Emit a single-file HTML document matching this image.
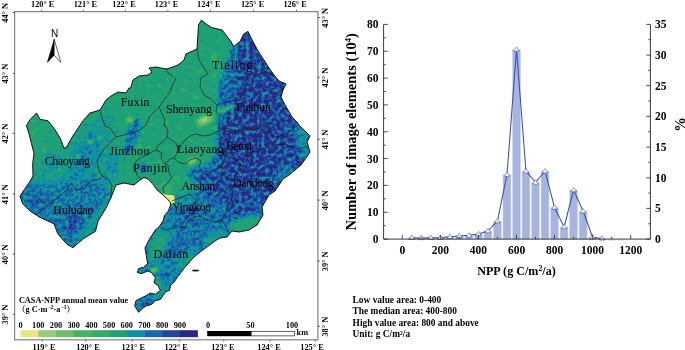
<!DOCTYPE html>
<html><head><meta charset="utf-8"><title>NPP map</title>
<style>
html,body{margin:0;padding:0;background:#fff;}
body{width:685px;height:350px;overflow:hidden;}
svg{display:block;}
text{font-family:"Liberation Serif",serif;font-weight:bold;fill:#000;}
.city{font-family:"Liberation Serif",serif;font-weight:normal;fill:#000;}
</style></head><body>
<svg width="685" height="350" viewBox="0 0 685 350">
<defs>
<clipPath id="prov"><polygon points="130.7,88.0 133.0,80.0 139.0,76.0 148.0,75.0 152.0,72.0 149.0,68.0 156.0,67.0 166.0,69.0 170.0,68.0 178.0,65.0 184.0,60.0 186.0,54.0 197.0,49.0 198.5,25.0 201.5,20.0 206.0,24.0 212.0,27.7 222.0,30.0 231.0,41.5 233.6,46.5 240.0,41.5 243.7,34.0 248.0,31.4 251.0,37.7 257.5,50.0 262.5,58.0 264.0,60.0 269.0,68.0 274.0,75.0 279.0,81.0 286.0,84.0 283.0,90.0 281.0,97.0 284.0,103.0 288.0,110.0 292.0,117.0 297.0,122.0 299.0,125.0 304.0,130.0 310.0,136.0 307.0,142.0 310.0,152.0 306.0,158.0 301.0,165.0 295.0,170.0 289.0,175.0 283.0,179.0 279.0,185.0 275.0,191.0 269.0,195.0 262.0,207.0 263.0,215.0 257.0,225.0 249.0,230.0 239.0,232.0 232.0,231.0 227.0,237.0 220.0,238.0 215.0,241.0 207.0,247.0 200.0,252.0 193.0,258.0 187.0,265.0 184.8,267.3 181.0,272.4 177.1,277.6 174.6,281.4 170.7,285.3 169.4,290.4 165.6,291.7 163.0,295.6 160.4,299.4 155.3,300.7 151.4,304.6 146.3,305.8 142.4,308.4 138.6,312.3 134.7,305.8 136.0,300.7 141.1,298.1 146.3,295.6 150.1,293.0 155.3,294.3 160.4,290.4 157.8,285.3 154.0,282.7 155.3,277.6 151.4,272.4 147.6,271.1 141.1,273.7 137.3,272.4 138.6,268.6 143.7,267.3 147.6,263.4 146.3,255.7 145.0,248.0 148.8,240.3 155.3,230.0 159.0,227.0 163.6,220.0 164.3,215.7 167.9,211.4 170.0,207.0 170.7,202.9 167.1,198.6 162.9,195.0 157.1,190.0 152.9,184.3 148.6,179.3 144.0,177.5 140.0,180.0 134.0,185.0 124.0,183.0 116.0,185.0 110.6,198.6 105.6,208.7 98.0,221.3 95.5,231.3 83.0,238.9 72.9,247.7 66.6,243.9 57.8,233.8 54.0,223.8 40.2,217.5 30.2,211.2 22.6,203.7 20.0,196.0 25.0,188.6 30.2,181.0 33.0,176.0 32.7,163.4 34.0,153.4 31.4,143.3 28.9,133.3 26.4,125.7 30.2,119.4 36.5,113.0 40.2,119.4 47.8,120.7 54.0,128.2 60.3,138.3 64.0,148.3 66.6,147.0 72.9,135.8 83.0,120.7 90.0,113.0 100.0,110.0 106.0,100.0 111.0,96.0 118.0,92.0 126.0,93.0 129.0,88.0"/></clipPath>
<filter id="blur6" x="-30%" y="-30%" width="160%" height="160%"><feGaussianBlur stdDeviation="5"/></filter>
<filter id="blur4" x="-30%" y="-30%" width="160%" height="160%"><feGaussianBlur stdDeviation="4"/></filter>
<filter id="blur3" x="-30%" y="-30%" width="160%" height="160%"><feGaussianBlur stdDeviation="2.5"/></filter>
<filter id="blur1" x="-50%" y="-50%" width="200%" height="200%"><feGaussianBlur stdDeviation="0.7"/></filter>
<filter id="blur2" x="-50%" y="-50%" width="200%" height="200%"><feGaussianBlur stdDeviation="1.2"/></filter>
<filter id="cmap" filterUnits="userSpaceOnUse" x="0" y="0" width="345" height="350" color-interpolation-filters="sRGB">
<feTurbulence type="fractalNoise" baseFrequency="0.26" numOctaves="4" seed="11" result="n0"/>
<feColorMatrix in="n0" type="matrix" values="1 0 0 0 0  1 0 0 0 0  1 0 0 0 0  0 0 0 0 1" result="n"/>
<feComponentTransfer in="SourceGraphic" result="amp">
<feFuncR type="gamma" amplitude="1" exponent="4" offset="0"/>
<feFuncG type="gamma" amplitude="1" exponent="4" offset="0"/>
<feFuncB type="gamma" amplitude="1" exponent="4" offset="0"/>
</feComponentTransfer>
<feComposite in="amp" in2="n" operator="arithmetic" k1="1.7" k2="-0.85" k3="0.07" k4="0.465" result="t"/>
<feComposite in="SourceGraphic" in2="t" operator="arithmetic" k1="0" k2="1" k3="1" k4="-0.5" result="f"/>
<feComponentTransfer in="f">
<feFuncR type="discrete" tableValues="0.910 0.588 0.431 0.255 0.196 0.125 0.055 0.094 0.133 0.173"/>
<feFuncG type="discrete" tableValues="0.910 0.804 0.745 0.706 0.682 0.635 0.569 0.408 0.275 0.149"/>
<feFuncB type="discrete" tableValues="0.490 0.471 0.431 0.373 0.412 0.455 0.647 0.667 0.627 0.510"/>
<feFuncA type="linear" slope="0" intercept="1"/>
</feComponentTransfer>
</filter>
</defs>
<rect width="685" height="350" fill="#fff"/>

<g clip-path="url(#prov)"><g filter="url(#cmap)">
<rect x="0" y="0" width="345" height="350" fill="#8c8c8c"/>
<polygon points="15.0,180.0 45.0,165.0 64.0,152.0 90.0,120.0 112.0,112.0 120.0,150.0 118.0,185.0 100.0,230.0 75.0,255.0 40.0,225.0 10.0,210.0" fill="#999999" opacity="0.9" filter="url(#blur6)"/>
<ellipse cx="86" cy="155" rx="10" ry="27" transform="rotate(27 86 155)" fill="#b2b2b2" opacity="0.85" filter="url(#blur4)"/>
<polygon points="12.0,180.0 50.0,185.0 95.0,175.0 118.0,188.0 100.0,230.0 75.0,255.0 40.0,225.0 10.0,210.0" fill="#b8b8b8" opacity="0.9" filter="url(#blur6)"/>
<ellipse cx="75" cy="222" rx="14" ry="8" transform="rotate(-30 75 222)" fill="#d1d1d1" opacity="0.8" filter="url(#blur3)"/>
<ellipse cx="40" cy="200" rx="12" ry="8" transform="rotate(20 40 200)" fill="#c7c7c7" opacity="0.7" filter="url(#blur3)"/>
<ellipse cx="52" cy="160" rx="10" ry="6" transform="rotate(60 52 160)" fill="#adadad" opacity="0.7" filter="url(#blur3)"/>
<ellipse cx="132" cy="136" rx="4.5" ry="20" transform="rotate(18 132 136)" fill="#cccccc" opacity="0.95" filter="url(#blur3)"/>
<ellipse cx="112" cy="165" rx="6" ry="10" transform="rotate(10 112 165)" fill="#b2b2b2" opacity="0.7" filter="url(#blur3)"/>
<ellipse cx="36" cy="130" rx="6" ry="12" transform="rotate(0 36 130)" fill="#808080" opacity="0.8" filter="url(#blur3)"/>
<ellipse cx="95" cy="221" rx="4" ry="30" transform="rotate(37 95 221)" fill="#8f8f8f" opacity="0.85" filter="url(#blur3)"/>
<ellipse cx="112" cy="188" rx="8" ry="5" transform="rotate(0 112 188)" fill="#8c8c8c" opacity="0.8" filter="url(#blur3)"/>
<ellipse cx="143" cy="169" rx="5" ry="7" transform="rotate(0 143 169)" fill="#bdbdbd" opacity="0.85" filter="url(#blur3)"/>
<polygon points="236.0,30.0 230.0,55.0 222.0,75.0 217.0,95.0 220.0,112.0 218.0,135.0 216.0,150.0 208.0,165.0 199.0,182.0 191.0,200.0 185.0,215.0 172.0,240.0 160.0,262.0 200.0,262.0 330.0,250.0 330.0,20.0" fill="#bdbdbd" opacity="1" filter="url(#blur3)"/>
<polygon points="246.0,25.0 244.0,55.0 240.0,75.0 236.0,92.0 230.0,108.0 228.0,135.0 226.0,150.0 218.0,168.0 210.0,186.0 204.0,202.0 198.0,218.0 186.0,240.0 172.0,262.0 200.0,262.0 330.0,250.0 330.0,20.0" fill="#d6d6d6" opacity="1" filter="url(#blur6)"/>
<polygon points="150.0,195.0 200.0,195.0 240.0,200.0 270.0,195.0 270.0,240.0 130.0,330.0 120.0,260.0" fill="#b2b2b2" opacity="0.85" filter="url(#blur6)"/>
<polygon points="222.0,170.0 280.0,175.0 262.0,212.0 240.0,225.0 225.0,215.0 222.0,190.0" fill="#d6d6d6" opacity="0.8" filter="url(#blur6)"/>
<ellipse cx="187" cy="216" rx="14" ry="9" transform="rotate(-20 187 216)" fill="#cccccc" opacity="0.75" filter="url(#blur3)"/>
<ellipse cx="200" cy="175" rx="12" ry="8" transform="rotate(0 200 175)" fill="#d6d6d6" opacity="0.7" filter="url(#blur3)"/>
<ellipse cx="178" cy="245" rx="14" ry="9" transform="rotate(-30 178 245)" fill="#bdbdbd" opacity="0.7" filter="url(#blur3)"/>
<ellipse cx="248" cy="140" rx="28" ry="36" transform="rotate(0 248 140)" fill="#e6e6e6" opacity="0.8" filter="url(#blur6)"/>
<ellipse cx="262" cy="95" rx="22" ry="25" transform="rotate(0 262 95)" fill="#e0e0e0" opacity="0.6" filter="url(#blur6)"/>
<ellipse cx="250" cy="65" rx="12" ry="20" transform="rotate(-25 250 65)" fill="#dbdbdb" opacity="0.6" filter="url(#blur6)"/>
<ellipse cx="303" cy="140" rx="7" ry="22" transform="rotate(-10 303 140)" fill="#9e9e9e" opacity="0.85" filter="url(#blur3)"/>
<ellipse cx="285" cy="175" rx="12" ry="7" transform="rotate(-40 285 175)" fill="#a3a3a3" opacity="0.7" filter="url(#blur3)"/>
<ellipse cx="246" cy="224" rx="18" ry="7" transform="rotate(-15 246 224)" fill="#808080" opacity="0.9" filter="url(#blur3)"/>
<ellipse cx="215" cy="238" rx="12" ry="5" transform="rotate(-25 215 238)" fill="#808080" opacity="0.8" filter="url(#blur3)"/>
<ellipse cx="158" cy="245" rx="8" ry="16" transform="rotate(25 158 245)" fill="#858585" opacity="0.8" filter="url(#blur3)"/>
<ellipse cx="187" cy="260" rx="12" ry="6" transform="rotate(-40 187 260)" fill="#858585" opacity="0.7" filter="url(#blur3)"/>
<ellipse cx="158" cy="287" rx="5" ry="9" transform="rotate(0 158 287)" fill="#808080" opacity="0.7" filter="url(#blur3)"/>
<ellipse cx="146" cy="303" rx="6" ry="4" transform="rotate(-30 146 303)" fill="#d9d9d9" opacity="0.9" filter="url(#blur3)"/>
<ellipse cx="167" cy="277" rx="6" ry="7" transform="rotate(0 167 277)" fill="#bdbdbd" opacity="0.6" filter="url(#blur3)"/>
<ellipse cx="205" cy="120" rx="10" ry="5.5" transform="rotate(-25 205 120)" fill="#4c4c4c" opacity="1" filter="url(#blur2)"/>
<ellipse cx="204" cy="120" rx="5" ry="2.5" transform="rotate(-25 204 120)" fill="#262626" opacity="1" filter="url(#blur2)"/>
<ellipse cx="226" cy="109" rx="10" ry="2" transform="rotate(-20 226 109)" fill="#595959" opacity="0.9" filter="url(#blur2)"/>
<ellipse cx="167" cy="189" rx="8" ry="8" transform="rotate(0 167 189)" fill="#757575" opacity="0.9" filter="url(#blur3)"/>
<polygon points="162.5,194.0 174.5,195.5 175.0,204.5 170.0,203.5" fill="#000000" opacity="1" filter="url(#blur1)"/>
<ellipse cx="192" cy="161" rx="5" ry="3.5" transform="rotate(-20 192 161)" fill="#333333" opacity="0.9" filter="url(#blur2)"/>
<ellipse cx="130" cy="120" rx="4" ry="3" transform="rotate(0 130 120)" fill="#383838" opacity="0.8" filter="url(#blur2)"/>
<ellipse cx="150" cy="186" rx="6" ry="2.5" transform="rotate(0 150 186)" fill="#4c4c4c" opacity="0.8" filter="url(#blur2)"/>
<ellipse cx="90" cy="142" rx="3" ry="2" transform="rotate(0 90 142)" fill="#333333" opacity="0.8" filter="url(#blur2)"/>
<ellipse cx="100" cy="138" rx="2.5" ry="1.5" transform="rotate(0 100 138)" fill="#262626" opacity="0.8" filter="url(#blur2)"/>
<ellipse cx="78" cy="157" rx="2" ry="2" transform="rotate(0 78 157)" fill="#333333" opacity="0.7" filter="url(#blur2)"/>
<ellipse cx="117" cy="190" rx="4" ry="3" transform="rotate(0 117 190)" fill="#4c4c4c" opacity="0.8" filter="url(#blur2)"/>
<ellipse cx="154" cy="270" rx="4" ry="2" transform="rotate(-20 154 270)" fill="#1f1f1f" opacity="0.9" filter="url(#blur2)"/>
<ellipse cx="214" cy="58" rx="2" ry="6" transform="rotate(0 214 58)" fill="#4c4c4c" opacity="0.6" filter="url(#blur2)"/>
<ellipse cx="173" cy="75" rx="1.8" ry="1.3" transform="rotate(0 173 75)" fill="#4c4c4c" opacity="0.85" filter="url(#blur2)"/>
<ellipse cx="198" cy="72" rx="1.8" ry="1.3" transform="rotate(0 198 72)" fill="#4c4c4c" opacity="0.85" filter="url(#blur2)"/>
<ellipse cx="196" cy="97" rx="1.8" ry="1.3" transform="rotate(0 196 97)" fill="#4c4c4c" opacity="0.85" filter="url(#blur2)"/>
<ellipse cx="183" cy="90" rx="1.8" ry="1.3" transform="rotate(0 183 90)" fill="#4c4c4c" opacity="0.85" filter="url(#blur2)"/>
<ellipse cx="166" cy="122" rx="1.8" ry="1.3" transform="rotate(0 166 122)" fill="#4c4c4c" opacity="0.85" filter="url(#blur2)"/>
<ellipse cx="180" cy="128" rx="1.8" ry="1.3" transform="rotate(0 180 128)" fill="#4c4c4c" opacity="0.85" filter="url(#blur2)"/>
<ellipse cx="146" cy="100" rx="1.8" ry="1.3" transform="rotate(0 146 100)" fill="#4c4c4c" opacity="0.85" filter="url(#blur2)"/>
<ellipse cx="120" cy="150" rx="1.8" ry="1.3" transform="rotate(0 120 150)" fill="#4c4c4c" opacity="0.85" filter="url(#blur2)"/>
<ellipse cx="100" cy="175" rx="1.8" ry="1.3" transform="rotate(0 100 175)" fill="#4c4c4c" opacity="0.85" filter="url(#blur2)"/>
<ellipse cx="60" cy="170" rx="1.8" ry="1.3" transform="rotate(0 60 170)" fill="#4c4c4c" opacity="0.85" filter="url(#blur2)"/>
<ellipse cx="45" cy="150" rx="1.8" ry="1.3" transform="rotate(0 45 150)" fill="#4c4c4c" opacity="0.85" filter="url(#blur2)"/>
<ellipse cx="215" cy="75" rx="1.8" ry="1.3" transform="rotate(0 215 75)" fill="#4c4c4c" opacity="0.85" filter="url(#blur2)"/>
<ellipse cx="190" cy="140" rx="1.8" ry="1.3" transform="rotate(0 190 140)" fill="#4c4c4c" opacity="0.85" filter="url(#blur2)"/>
<ellipse cx="160" cy="160" rx="1.8" ry="1.3" transform="rotate(0 160 160)" fill="#4c4c4c" opacity="0.85" filter="url(#blur2)"/>
<ellipse cx="215" cy="128" rx="1.8" ry="1.3" transform="rotate(0 215 128)" fill="#4c4c4c" opacity="0.85" filter="url(#blur2)"/>
<ellipse cx="60" cy="205" rx="1.8" ry="1.3" transform="rotate(0 60 205)" fill="#4c4c4c" opacity="0.85" filter="url(#blur2)"/>
<ellipse cx="85" cy="215" rx="1.8" ry="1.3" transform="rotate(0 85 215)" fill="#4c4c4c" opacity="0.85" filter="url(#blur2)"/>
<ellipse cx="175" cy="178" rx="1.8" ry="1.3" transform="rotate(0 175 178)" fill="#4c4c4c" opacity="0.85" filter="url(#blur2)"/>
<ellipse cx="140" cy="145" rx="1.8" ry="1.3" transform="rotate(0 140 145)" fill="#4c4c4c" opacity="0.85" filter="url(#blur2)"/>
</g></g>
<polygon points="130.7,88.0 133.0,80.0 139.0,76.0 148.0,75.0 152.0,72.0 149.0,68.0 156.0,67.0 166.0,69.0 170.0,68.0 178.0,65.0 184.0,60.0 186.0,54.0 197.0,49.0 198.5,25.0 201.5,20.0 206.0,24.0 212.0,27.7 222.0,30.0 231.0,41.5 233.6,46.5 240.0,41.5 243.7,34.0 248.0,31.4 251.0,37.7 257.5,50.0 262.5,58.0 264.0,60.0 269.0,68.0 274.0,75.0 279.0,81.0 286.0,84.0 283.0,90.0 281.0,97.0 284.0,103.0 288.0,110.0 292.0,117.0 297.0,122.0 299.0,125.0 304.0,130.0 310.0,136.0 307.0,142.0 310.0,152.0 306.0,158.0 301.0,165.0 295.0,170.0 289.0,175.0 283.0,179.0 279.0,185.0 275.0,191.0 269.0,195.0 262.0,207.0 263.0,215.0 257.0,225.0 249.0,230.0 239.0,232.0 232.0,231.0 227.0,237.0 220.0,238.0 215.0,241.0 207.0,247.0 200.0,252.0 193.0,258.0 187.0,265.0 184.8,267.3 181.0,272.4 177.1,277.6 174.6,281.4 170.7,285.3 169.4,290.4 165.6,291.7 163.0,295.6 160.4,299.4 155.3,300.7 151.4,304.6 146.3,305.8 142.4,308.4 138.6,312.3 134.7,305.8 136.0,300.7 141.1,298.1 146.3,295.6 150.1,293.0 155.3,294.3 160.4,290.4 157.8,285.3 154.0,282.7 155.3,277.6 151.4,272.4 147.6,271.1 141.1,273.7 137.3,272.4 138.6,268.6 143.7,267.3 147.6,263.4 146.3,255.7 145.0,248.0 148.8,240.3 155.3,230.0 159.0,227.0 163.6,220.0 164.3,215.7 167.9,211.4 170.0,207.0 170.7,202.9 167.1,198.6 162.9,195.0 157.1,190.0 152.9,184.3 148.6,179.3 144.0,177.5 140.0,180.0 134.0,185.0 124.0,183.0 116.0,185.0 110.6,198.6 105.6,208.7 98.0,221.3 95.5,231.3 83.0,238.9 72.9,247.7 66.6,243.9 57.8,233.8 54.0,223.8 40.2,217.5 30.2,211.2 22.6,203.7 20.0,196.0 25.0,188.6 30.2,181.0 33.0,176.0 32.7,163.4 34.0,153.4 31.4,143.3 28.9,133.3 26.4,125.7 30.2,119.4 36.5,113.0 40.2,119.4 47.8,120.7 54.0,128.2 60.3,138.3 64.0,148.3 66.6,147.0 72.9,135.8 83.0,120.7 90.0,113.0 100.0,110.0 106.0,100.0 111.0,96.0 118.0,92.0 126.0,93.0 129.0,88.0" fill="none" stroke="#111" stroke-width="1" stroke-linejoin="round"/>
<polyline points="100.0,110.0 102.0,118.0 105.0,126.0 110.0,128.0 112.0,131.0 116.0,137.0 110.0,143.0 104.0,149.0 100.0,155.0 97.0,161.0 98.0,167.0 101.0,175.0 108.0,179.0 112.0,185.0 111.0,193.0 110.6,198.6" fill="none" stroke="#1a1a1a" stroke-width="0.65" stroke-linejoin="round"/>
<polyline points="116.0,137.0 124.0,135.0 132.0,133.0 140.0,130.0 146.0,125.0 150.0,116.0 159.0,107.0 164.0,100.0 170.0,92.0 173.0,84.0 176.0,79.0 174.0,77.0 167.0,72.0 166.0,69.0" fill="none" stroke="#1a1a1a" stroke-width="0.65" stroke-linejoin="round"/>
<polyline points="159.0,107.0 162.0,114.0 165.0,120.0 164.0,126.0 165.0,125.0 168.0,131.0 167.0,137.0 163.0,142.0 158.0,145.0 156.0,150.0" fill="none" stroke="#1a1a1a" stroke-width="0.65" stroke-linejoin="round"/>
<polyline points="156.0,150.0 150.0,153.0 142.0,157.0 136.0,161.0 134.0,167.0 137.0,175.0 141.0,179.0" fill="none" stroke="#1a1a1a" stroke-width="0.65" stroke-linejoin="round"/>
<polyline points="156.0,150.0 162.0,153.0 161.0,159.0 165.0,164.0 170.0,159.0 174.0,158.0" fill="none" stroke="#1a1a1a" stroke-width="0.65" stroke-linejoin="round"/>
<polyline points="165.0,164.0 168.0,165.0 169.0,173.0 172.0,177.0 168.0,183.0 163.0,187.0 164.0,193.0" fill="none" stroke="#1a1a1a" stroke-width="0.65" stroke-linejoin="round"/>
<polyline points="167.0,137.0 176.0,143.0 178.0,149.0 176.0,155.0 174.0,158.0" fill="none" stroke="#1a1a1a" stroke-width="0.65" stroke-linejoin="round"/>
<polyline points="178.0,149.0 184.0,141.0 190.0,136.0 196.0,134.0 204.0,136.0 210.0,135.0 219.0,131.0" fill="none" stroke="#1a1a1a" stroke-width="0.65" stroke-linejoin="round"/>
<polyline points="174.0,158.0 178.0,162.0 185.0,164.0 190.0,160.0 196.0,158.0 201.0,161.0 199.0,167.0 202.0,171.0 210.0,172.0 221.0,167.0" fill="none" stroke="#1a1a1a" stroke-width="0.65" stroke-linejoin="round"/>
<polyline points="197.0,49.0 199.0,60.0 203.0,66.0 208.0,74.0 201.0,78.0 200.0,86.0 204.0,95.0 211.0,99.0 217.0,105.0" fill="none" stroke="#1a1a1a" stroke-width="0.65" stroke-linejoin="round"/>
<polyline points="217.0,105.0 221.0,103.0 229.0,102.0 235.0,99.0 241.0,96.0 246.0,90.0 245.0,84.0 247.0,78.0 252.0,79.0 257.0,75.0 265.0,72.0 274.0,75.0" fill="none" stroke="#1a1a1a" stroke-width="0.65" stroke-linejoin="round"/>
<polyline points="217.0,105.0 216.0,112.0 220.0,116.0 219.0,124.0 219.0,131.0 221.0,137.0 220.0,145.0 223.0,151.0 225.0,159.0 221.0,167.0 223.0,175.0 231.0,181.0 230.0,189.0 233.0,190.0 232.0,197.0 228.0,205.0 226.0,212.0 222.0,221.0 226.0,226.0 228.0,232.0" fill="none" stroke="#1a1a1a" stroke-width="0.65" stroke-linejoin="round"/>
<polyline points="219.0,131.0 228.0,128.0 236.0,131.0 245.0,128.0 255.0,130.0 262.0,126.0 268.0,125.0 269.0,133.0 275.0,137.0 283.0,135.0 291.0,131.0 295.0,127.0 299.0,125.0" fill="none" stroke="#1a1a1a" stroke-width="0.65" stroke-linejoin="round"/>
<polyline points="243.0,167.0 244.0,160.0 247.0,153.0 255.0,151.0 265.0,148.0 275.0,145.0 285.0,144.0 293.0,147.0 299.0,149.0 307.0,146.0" fill="none" stroke="#1a1a1a" stroke-width="0.65" stroke-linejoin="round"/>
<polyline points="223.0,151.0 230.0,153.0 236.0,160.0 243.0,167.0 238.0,172.0 231.0,181.0" fill="none" stroke="#1a1a1a" stroke-width="0.65" stroke-linejoin="round"/>
<polyline points="172.0,201.0 182.0,197.0 190.0,194.0 193.0,197.0 198.0,204.0 196.0,210.0 200.0,216.0 207.0,220.0 215.0,222.0 222.0,221.0" fill="none" stroke="#1a1a1a" stroke-width="0.65" stroke-linejoin="round"/>
<polyline points="160.0,228.0 167.0,230.0 177.0,226.0 185.0,228.0 187.0,222.0 193.0,217.0 200.0,216.0" fill="none" stroke="#1a1a1a" stroke-width="0.65" stroke-linejoin="round"/>
<polyline points="38.0,214.0 49.0,204.0 61.0,195.0 68.0,188.0 71.0,183.0 76.0,190.0 86.0,187.0 90.0,181.0 100.0,179.0 103.0,176.0 101.0,175.0" fill="none" stroke="#1a1a1a" stroke-width="0.65" stroke-linejoin="round"/>
<ellipse cx="195.5" cy="270.5" rx="3.5" ry="1" fill="#222"/>
<rect x="14.6" y="11.6" width="303.29999999999995" height="328.2" fill="none" stroke="#85858f" stroke-width="1.25"/>
<line x1="41.6" y1="11.6" x2="41.6" y2="9.6" stroke="#444" stroke-width="0.7"/>
<text x="42.7" y="7.2" font-size="8.3" text-anchor="middle">120° E</text>
<line x1="83.2" y1="11.6" x2="83.2" y2="9.6" stroke="#444" stroke-width="0.7"/>
<text x="85.4" y="7.2" font-size="8.3" text-anchor="middle">121° E</text>
<line x1="125.4" y1="11.6" x2="125.4" y2="9.6" stroke="#444" stroke-width="0.7"/>
<text x="124" y="7.2" font-size="8.3" text-anchor="middle">122° E</text>
<line x1="167.9" y1="11.6" x2="167.9" y2="9.6" stroke="#444" stroke-width="0.7"/>
<text x="166.5" y="7.2" font-size="8.3" text-anchor="middle">123° E</text>
<line x1="210.5" y1="11.6" x2="210.5" y2="9.6" stroke="#444" stroke-width="0.7"/>
<text x="208.8" y="7.2" font-size="8.3" text-anchor="middle">124° E</text>
<line x1="253.5" y1="11.6" x2="253.5" y2="9.6" stroke="#444" stroke-width="0.7"/>
<text x="252.6" y="7.2" font-size="8.3" text-anchor="middle">125° E</text>
<line x1="296.5" y1="11.6" x2="296.5" y2="9.6" stroke="#444" stroke-width="0.7"/>
<text x="295.1" y="7.2" font-size="8.3" text-anchor="middle">126° E</text>
<line x1="42.1" y1="339.8" x2="42.1" y2="341.8" stroke="#444" stroke-width="0.7"/>
<text x="44" y="349.5" font-size="8.3" text-anchor="middle">119° E</text>
<line x1="85.9" y1="339.8" x2="85.9" y2="341.8" stroke="#444" stroke-width="0.7"/>
<text x="88" y="349.5" font-size="8.3" text-anchor="middle">120° E</text>
<line x1="132.3" y1="339.8" x2="132.3" y2="341.8" stroke="#444" stroke-width="0.7"/>
<text x="133.3" y="349.5" font-size="8.3" text-anchor="middle">121° E</text>
<line x1="179.4" y1="339.8" x2="179.4" y2="341.8" stroke="#444" stroke-width="0.7"/>
<text x="176.2" y="349.5" font-size="8.3" text-anchor="middle">122° E</text>
<line x1="223.8" y1="339.8" x2="223.8" y2="341.8" stroke="#444" stroke-width="0.7"/>
<text x="222.9" y="349.5" font-size="8.3" text-anchor="middle">123° E</text>
<line x1="270.1" y1="339.8" x2="270.1" y2="341.8" stroke="#444" stroke-width="0.7"/>
<text x="269" y="349.5" font-size="8.3" text-anchor="middle">124° E</text>
<line x1="315.3" y1="339.8" x2="315.3" y2="341.8" stroke="#444" stroke-width="0.7"/>
<text x="312" y="349.5" font-size="8.3" text-anchor="middle">125° E</text>
<line x1="14.6" y1="12.6" x2="12.6" y2="12.6" stroke="#222" stroke-width="0.7"/>
<text transform="translate(8.2,12.9) rotate(-90)" font-size="8.3" text-anchor="middle">44° N</text>
<line x1="14.6" y1="73.4" x2="12.6" y2="73.4" stroke="#222" stroke-width="0.7"/>
<text transform="translate(8.2,73.7) rotate(-90)" font-size="8.3" text-anchor="middle">43° N</text>
<line x1="14.6" y1="133.3" x2="12.6" y2="133.3" stroke="#222" stroke-width="0.7"/>
<text transform="translate(8.2,133.60000000000002) rotate(-90)" font-size="8.3" text-anchor="middle">42° N</text>
<line x1="14.6" y1="194" x2="12.6" y2="194" stroke="#222" stroke-width="0.7"/>
<text transform="translate(8.2,194.3) rotate(-90)" font-size="8.3" text-anchor="middle">41° N</text>
<line x1="14.6" y1="254" x2="12.6" y2="254" stroke="#222" stroke-width="0.7"/>
<text transform="translate(8.2,254.3) rotate(-90)" font-size="8.3" text-anchor="middle">40° N</text>
<line x1="14.6" y1="314.3" x2="12.6" y2="314.3" stroke="#222" stroke-width="0.7"/>
<text transform="translate(8.2,314.6) rotate(-90)" font-size="8.3" text-anchor="middle">39° N</text>
<line x1="317.9" y1="17.5" x2="319.9" y2="17.5" stroke="#222" stroke-width="0.7"/>
<text transform="translate(327.8,17.8) rotate(-90)" font-size="8.3" text-anchor="middle">43° N</text>
<line x1="317.9" y1="77.3" x2="319.9" y2="77.3" stroke="#222" stroke-width="0.7"/>
<text transform="translate(327.8,77.6) rotate(-90)" font-size="8.3" text-anchor="middle">42° N</text>
<line x1="317.9" y1="139.2" x2="319.9" y2="139.2" stroke="#222" stroke-width="0.7"/>
<text transform="translate(327.8,139.5) rotate(-90)" font-size="8.3" text-anchor="middle">41° N</text>
<line x1="317.9" y1="200.1" x2="319.9" y2="200.1" stroke="#222" stroke-width="0.7"/>
<text transform="translate(327.8,200.4) rotate(-90)" font-size="8.3" text-anchor="middle">40° N</text>
<line x1="317.9" y1="261.1" x2="319.9" y2="261.1" stroke="#222" stroke-width="0.7"/>
<text transform="translate(327.8,261.40000000000003) rotate(-90)" font-size="8.3" text-anchor="middle">39° N</text>
<line x1="317.9" y1="326.4" x2="319.9" y2="326.4" stroke="#222" stroke-width="0.7"/>
<text transform="translate(327.8,326.7) rotate(-90)" font-size="8.3" text-anchor="middle">38° N</text>
<text x="54.6" y="36.5" font-size="10" text-anchor="middle" style="font-family:'Liberation Sans',sans-serif;font-weight:normal">N</text>
<polygon points="54.2,39.3 47.3,62.4 54.2,55.2" fill="#000" stroke="#000" stroke-width="0.5"/>
<polygon points="54.2,39.3 60.8,62.4 54.2,55.2" fill="#fff" stroke="#000" stroke-width="0.6"/>
<text class="city" x="212" y="69.3" font-size="12" textLength="40.5" lengthAdjust="spacing">Tieling</text>
<text class="city" x="120.7" y="106.3" font-size="12" textLength="28.9" lengthAdjust="spacing">Fuxin</text>
<text class="city" x="166" y="112.7" font-size="12" textLength="46.0" lengthAdjust="spacing">Shenyang</text>
<text class="city" x="236" y="111.3" font-size="12" textLength="35.0" lengthAdjust="spacing">Fushun</text>
<text class="city" x="109.4" y="155.3" font-size="12" textLength="40.2" lengthAdjust="spacing">Jinzhou</text>
<text class="city" x="177" y="152.9" font-size="12" textLength="46.5" lengthAdjust="spacing">Liaoyang</text>
<text class="city" x="226" y="149.60000000000002" font-size="12" textLength="26.0" lengthAdjust="spacing">Benxi</text>
<text class="city" x="44.8" y="164.70000000000002" font-size="12" textLength="45.2" lengthAdjust="spacing">Chaoyang</text>
<text class="city" x="133.3" y="171.8" font-size="12" textLength="33.9" lengthAdjust="spacing">Panjin</text>
<text class="city" x="181.6" y="189.9" font-size="12" textLength="33.6" lengthAdjust="spacing">Anshan</text>
<text class="city" x="233" y="186.8" font-size="12" textLength="40.8" lengthAdjust="spacing">Dandong</text>
<text class="city" x="172" y="210.70000000000002" font-size="12" textLength="39.0" lengthAdjust="spacing">Yingkou</text>
<text class="city" x="53.3" y="213.70000000000002" font-size="12" textLength="40.2" lengthAdjust="spacing">Huludao</text>
<text class="city" x="153.4" y="257.8" font-size="12" textLength="34.9" lengthAdjust="spacing">Dalian</text>
<rect x="20.60" y="330.2" width="18.00" height="7" fill="#e8e87d"/>
<rect x="38.30" y="330.2" width="18.00" height="7" fill="#96cd78"/>
<rect x="56.00" y="330.2" width="18.00" height="7" fill="#6ebe6e"/>
<rect x="73.70" y="330.2" width="18.00" height="7" fill="#41b45f"/>
<rect x="91.40" y="330.2" width="18.00" height="7" fill="#32ae69"/>
<rect x="109.10" y="330.2" width="18.00" height="7" fill="#20a274"/>
<rect x="126.80" y="330.2" width="18.00" height="7" fill="#0e91a5"/>
<rect x="144.50" y="330.2" width="18.00" height="7" fill="#1868aa"/>
<rect x="162.20" y="330.2" width="18.00" height="7" fill="#2246a0"/>
<rect x="179.90" y="330.2" width="18.00" height="7" fill="#2c2682"/>
<text x="20.6" y="327.6" font-size="8.3" text-anchor="middle">0</text>
<text x="38.3" y="327.6" font-size="8.3" text-anchor="middle">100</text>
<text x="56.0" y="327.6" font-size="8.3" text-anchor="middle">200</text>
<text x="73.7" y="327.6" font-size="8.3" text-anchor="middle">300</text>
<text x="91.4" y="327.6" font-size="8.3" text-anchor="middle">400</text>
<text x="109.1" y="327.6" font-size="8.3" text-anchor="middle">500</text>
<text x="126.8" y="327.6" font-size="8.3" text-anchor="middle">600</text>
<text x="144.5" y="327.6" font-size="8.3" text-anchor="middle">700</text>
<text x="162.2" y="327.6" font-size="8.3" text-anchor="middle">800</text>
<text x="179.9" y="327.6" font-size="8.3" text-anchor="middle">900</text>
<text x="18.9" y="303.1" font-size="8.6" textLength="109.3" lengthAdjust="spacingAndGlyphs">CASA-NPP annual mean value</text>
<text x="17.3" y="311.8" font-size="8.3" style="font-family:'Liberation Serif','Noto Serif CJK SC',serif">（g C·m<tspan font-size="5.6" dy="-2.4"> -2</tspan><tspan dy="2.4">·a</tspan><tspan font-size="5.6" dy="-2.4"> -1</tspan><tspan dy="2.4">）</tspan></text>
<rect x="207.2" y="331" width="44" height="5.2" fill="#000"/>
<rect x="251.2" y="331.3" width="43.3" height="4.6" fill="#fff" stroke="#000" stroke-width="0.6"/>
<text x="208" y="327.6" font-size="8.3" text-anchor="middle">0</text>
<text x="250.5" y="327.6" font-size="8.3" text-anchor="middle">50</text>
<text x="292" y="327.6" font-size="8.3" text-anchor="middle">100</text>
<text x="296.6" y="334.6" font-size="8.3">km</text>
<rect x="407.87" y="237.76" width="7.9" height="1.34" fill="#a6b4de" stroke="#c9d1ec" stroke-width="0.5"/>
<rect x="417.38" y="238.03" width="7.9" height="1.07" fill="#a6b4de" stroke="#c9d1ec" stroke-width="0.5"/>
<rect x="426.90" y="237.76" width="7.9" height="1.34" fill="#a6b4de" stroke="#c9d1ec" stroke-width="0.5"/>
<rect x="436.41" y="237.76" width="7.9" height="1.34" fill="#a6b4de" stroke="#c9d1ec" stroke-width="0.5"/>
<rect x="445.93" y="236.68" width="7.9" height="2.42" fill="#a6b4de" stroke="#c9d1ec" stroke-width="0.5"/>
<rect x="455.44" y="235.88" width="7.9" height="3.22" fill="#a6b4de" stroke="#c9d1ec" stroke-width="0.5"/>
<rect x="464.96" y="235.34" width="7.9" height="3.76" fill="#a6b4de" stroke="#c9d1ec" stroke-width="0.5"/>
<rect x="474.47" y="234.00" width="7.9" height="5.10" fill="#a6b4de" stroke="#c9d1ec" stroke-width="0.5"/>
<rect x="483.99" y="231.05" width="7.9" height="8.05" fill="#a6b4de" stroke="#c9d1ec" stroke-width="0.5"/>
<rect x="493.50" y="221.12" width="7.9" height="17.98" fill="#a6b4de" stroke="#c9d1ec" stroke-width="0.5"/>
<rect x="503.02" y="174.69" width="7.9" height="64.41" fill="#a6b4de" stroke="#c9d1ec" stroke-width="0.5"/>
<rect x="512.53" y="49.63" width="7.9" height="189.47" fill="#a6b4de" stroke="#c9d1ec" stroke-width="0.5"/>
<rect x="522.04" y="171.20" width="7.9" height="67.90" fill="#a6b4de" stroke="#c9d1ec" stroke-width="0.5"/>
<rect x="531.56" y="182.47" width="7.9" height="56.63" fill="#a6b4de" stroke="#c9d1ec" stroke-width="0.5"/>
<rect x="541.07" y="171.20" width="7.9" height="67.90" fill="#a6b4de" stroke="#c9d1ec" stroke-width="0.5"/>
<rect x="550.59" y="207.43" width="7.9" height="31.67" fill="#a6b4de" stroke="#c9d1ec" stroke-width="0.5"/>
<rect x="560.11" y="227.02" width="7.9" height="12.08" fill="#a6b4de" stroke="#c9d1ec" stroke-width="0.5"/>
<rect x="569.62" y="189.99" width="7.9" height="49.11" fill="#a6b4de" stroke="#c9d1ec" stroke-width="0.5"/>
<rect x="579.13" y="211.19" width="7.9" height="27.91" fill="#a6b4de" stroke="#c9d1ec" stroke-width="0.5"/>
<rect x="588.65" y="237.22" width="7.9" height="1.88" fill="#a6b4de" stroke="#c9d1ec" stroke-width="0.5"/>
<rect x="598.16" y="238.43" width="7.9" height="0.67" fill="#a6b4de" stroke="#c9d1ec" stroke-width="0.5"/>
<polyline points="411.8,237.8 421.3,238.0 430.8,237.8 440.4,237.8 449.9,236.7 459.4,235.9 468.9,235.3 478.4,234.0 487.9,231.0 497.4,221.1 507.0,174.7 516.5,49.6 526.0,171.2 535.5,182.5 545.0,171.2 554.5,207.4 564.1,227.0 573.6,190.0 583.1,211.2 592.6,237.2 602.1,238.4" fill="none" stroke="#3a4fb0" stroke-width="1.05" stroke-linejoin="round"/>
<polygon points="411.8,235.1 409.0,239.5 414.6,239.5" fill="#fff" stroke="#3a4fb0" stroke-width="0.55"/>
<polygon points="421.3,235.3 418.5,239.7 424.1,239.7" fill="#fff" stroke="#3a4fb0" stroke-width="0.55"/>
<polygon points="430.8,235.1 428.0,239.5 433.6,239.5" fill="#fff" stroke="#3a4fb0" stroke-width="0.55"/>
<polygon points="440.4,235.1 437.6,239.5 443.2,239.5" fill="#fff" stroke="#3a4fb0" stroke-width="0.55"/>
<polygon points="449.9,234.0 447.1,238.4 452.7,238.4" fill="#fff" stroke="#3a4fb0" stroke-width="0.55"/>
<polygon points="459.4,233.2 456.6,237.6 462.2,237.6" fill="#fff" stroke="#3a4fb0" stroke-width="0.55"/>
<polygon points="468.9,232.6 466.1,237.0 471.7,237.0" fill="#fff" stroke="#3a4fb0" stroke-width="0.55"/>
<polygon points="478.4,231.3 475.6,235.7 481.2,235.7" fill="#fff" stroke="#3a4fb0" stroke-width="0.55"/>
<polygon points="487.9,228.3 485.1,232.7 490.7,232.7" fill="#fff" stroke="#3a4fb0" stroke-width="0.55"/>
<polygon points="497.4,218.4 494.6,222.8 500.2,222.8" fill="#fff" stroke="#3a4fb0" stroke-width="0.55"/>
<polygon points="507.0,172.0 504.2,176.4 509.8,176.4" fill="#fff" stroke="#3a4fb0" stroke-width="0.55"/>
<polygon points="516.5,46.9 513.7,51.3 519.3,51.3" fill="#fff" stroke="#3a4fb0" stroke-width="0.55"/>
<polygon points="526.0,168.5 523.2,172.9 528.8,172.9" fill="#fff" stroke="#3a4fb0" stroke-width="0.55"/>
<polygon points="535.5,179.8 532.7,184.2 538.3,184.2" fill="#fff" stroke="#3a4fb0" stroke-width="0.55"/>
<polygon points="545.0,168.5 542.2,172.9 547.8,172.9" fill="#fff" stroke="#3a4fb0" stroke-width="0.55"/>
<polygon points="554.5,204.7 551.7,209.1 557.3,209.1" fill="#fff" stroke="#3a4fb0" stroke-width="0.55"/>
<polygon points="564.1,224.3 561.3,228.7 566.9,228.7" fill="#fff" stroke="#3a4fb0" stroke-width="0.55"/>
<polygon points="573.6,187.3 570.8,191.7 576.4,191.7" fill="#fff" stroke="#3a4fb0" stroke-width="0.55"/>
<polygon points="583.1,208.5 580.3,212.9 585.9,212.9" fill="#fff" stroke="#3a4fb0" stroke-width="0.55"/>
<polygon points="592.6,234.5 589.8,238.9 595.4,238.9" fill="#fff" stroke="#3a4fb0" stroke-width="0.55"/>
<polygon points="602.1,235.7 599.3,240.1 604.9,240.1" fill="#fff" stroke="#3a4fb0" stroke-width="0.55"/>
<polygon points="611.6,236.1 608.8,240.5 614.4,240.5" fill="#fff" stroke="#c8cde8" stroke-width="0.55"/>
<polygon points="621.1,236.1 618.3,240.5 623.9,240.5" fill="#fff" stroke="#c8cde8" stroke-width="0.55"/>
<path d="M383.6,24.4 V239.1 H650.4 V24.4" fill="none" stroke="#222" stroke-width="0.9"/>
<line x1="383.6" y1="239.1" x2="387.8" y2="239.1" stroke="#222" stroke-width="0.8"/>
<text x="378.6" y="243.0" font-size="11.5" text-anchor="end">0</text>
<line x1="383.6" y1="225.7" x2="385.90000000000003" y2="225.7" stroke="#222" stroke-width="0.7"/>
<line x1="383.6" y1="212.3" x2="387.8" y2="212.3" stroke="#222" stroke-width="0.8"/>
<text x="378.6" y="216.2" font-size="11.5" text-anchor="end">10</text>
<line x1="383.6" y1="198.8" x2="385.90000000000003" y2="198.8" stroke="#222" stroke-width="0.7"/>
<line x1="383.6" y1="185.4" x2="387.8" y2="185.4" stroke="#222" stroke-width="0.8"/>
<text x="378.6" y="189.3" font-size="11.5" text-anchor="end">20</text>
<line x1="383.6" y1="172.0" x2="385.90000000000003" y2="172.0" stroke="#222" stroke-width="0.7"/>
<line x1="383.6" y1="158.6" x2="387.8" y2="158.6" stroke="#222" stroke-width="0.8"/>
<text x="378.6" y="162.5" font-size="11.5" text-anchor="end">30</text>
<line x1="383.6" y1="145.2" x2="385.90000000000003" y2="145.2" stroke="#222" stroke-width="0.7"/>
<line x1="383.6" y1="131.8" x2="387.8" y2="131.8" stroke="#222" stroke-width="0.8"/>
<text x="378.6" y="135.7" font-size="11.5" text-anchor="end">40</text>
<line x1="383.6" y1="118.3" x2="385.90000000000003" y2="118.3" stroke="#222" stroke-width="0.7"/>
<line x1="383.6" y1="104.9" x2="387.8" y2="104.9" stroke="#222" stroke-width="0.8"/>
<text x="378.6" y="108.8" font-size="11.5" text-anchor="end">50</text>
<line x1="383.6" y1="91.5" x2="385.90000000000003" y2="91.5" stroke="#222" stroke-width="0.7"/>
<line x1="383.6" y1="78.1" x2="387.8" y2="78.1" stroke="#222" stroke-width="0.8"/>
<text x="378.6" y="82.0" font-size="11.5" text-anchor="end">60</text>
<line x1="383.6" y1="64.7" x2="385.90000000000003" y2="64.7" stroke="#222" stroke-width="0.7"/>
<line x1="383.6" y1="51.2" x2="387.8" y2="51.2" stroke="#222" stroke-width="0.8"/>
<text x="378.6" y="55.1" font-size="11.5" text-anchor="end">70</text>
<line x1="383.6" y1="37.8" x2="385.90000000000003" y2="37.8" stroke="#222" stroke-width="0.7"/>
<line x1="383.6" y1="24.4" x2="387.8" y2="24.4" stroke="#222" stroke-width="0.8"/>
<text x="378.6" y="28.3" font-size="11.5" text-anchor="end">80</text>
<line x1="650.4" y1="239.1" x2="646.1999999999999" y2="239.1" stroke="#222" stroke-width="0.8"/>
<text x="654.9" y="243.0" font-size="11.5">0</text>
<line x1="650.4" y1="223.8" x2="648.1" y2="223.8" stroke="#222" stroke-width="0.7"/>
<line x1="650.4" y1="208.4" x2="646.1999999999999" y2="208.4" stroke="#222" stroke-width="0.8"/>
<text x="654.9" y="212.3" font-size="11.5">5</text>
<line x1="650.4" y1="193.1" x2="648.1" y2="193.1" stroke="#222" stroke-width="0.7"/>
<line x1="650.4" y1="177.8" x2="646.1999999999999" y2="177.8" stroke="#222" stroke-width="0.8"/>
<text x="654.9" y="181.7" font-size="11.5">10</text>
<line x1="650.4" y1="162.4" x2="648.1" y2="162.4" stroke="#222" stroke-width="0.7"/>
<line x1="650.4" y1="147.1" x2="646.1999999999999" y2="147.1" stroke="#222" stroke-width="0.8"/>
<text x="654.9" y="151.0" font-size="11.5">15</text>
<line x1="650.4" y1="131.8" x2="648.1" y2="131.8" stroke="#222" stroke-width="0.7"/>
<line x1="650.4" y1="116.4" x2="646.1999999999999" y2="116.4" stroke="#222" stroke-width="0.8"/>
<text x="654.9" y="120.3" font-size="11.5">20</text>
<line x1="650.4" y1="101.1" x2="648.1" y2="101.1" stroke="#222" stroke-width="0.7"/>
<line x1="650.4" y1="85.7" x2="646.1999999999999" y2="85.7" stroke="#222" stroke-width="0.8"/>
<text x="654.9" y="89.6" font-size="11.5">25</text>
<line x1="650.4" y1="70.4" x2="648.1" y2="70.4" stroke="#222" stroke-width="0.7"/>
<line x1="650.4" y1="55.1" x2="646.1999999999999" y2="55.1" stroke="#222" stroke-width="0.8"/>
<text x="654.9" y="59.0" font-size="11.5">30</text>
<line x1="650.4" y1="39.7" x2="648.1" y2="39.7" stroke="#222" stroke-width="0.7"/>
<line x1="650.4" y1="24.4" x2="646.1999999999999" y2="24.4" stroke="#222" stroke-width="0.8"/>
<text x="654.9" y="28.3" font-size="11.5">35</text>
<line x1="402.3" y1="239.1" x2="402.3" y2="234.9" stroke="#222" stroke-width="0.8"/>
<text x="402.3" y="253.8" font-size="11.5" text-anchor="middle">0</text>
<line x1="421.3" y1="239.1" x2="421.3" y2="236.79999999999998" stroke="#222" stroke-width="0.7"/>
<line x1="440.4" y1="239.1" x2="440.4" y2="234.9" stroke="#222" stroke-width="0.8"/>
<text x="440.4" y="253.8" font-size="11.5" text-anchor="middle">200</text>
<line x1="459.4" y1="239.1" x2="459.4" y2="236.79999999999998" stroke="#222" stroke-width="0.7"/>
<line x1="478.4" y1="239.1" x2="478.4" y2="234.9" stroke="#222" stroke-width="0.8"/>
<text x="478.4" y="253.8" font-size="11.5" text-anchor="middle">400</text>
<line x1="497.4" y1="239.1" x2="497.4" y2="236.79999999999998" stroke="#222" stroke-width="0.7"/>
<line x1="516.5" y1="239.1" x2="516.5" y2="234.9" stroke="#222" stroke-width="0.8"/>
<text x="516.5" y="253.8" font-size="11.5" text-anchor="middle">600</text>
<line x1="535.5" y1="239.1" x2="535.5" y2="236.79999999999998" stroke="#222" stroke-width="0.7"/>
<line x1="554.5" y1="239.1" x2="554.5" y2="234.9" stroke="#222" stroke-width="0.8"/>
<text x="554.5" y="253.8" font-size="11.5" text-anchor="middle">800</text>
<line x1="573.6" y1="239.1" x2="573.6" y2="236.79999999999998" stroke="#222" stroke-width="0.7"/>
<line x1="592.6" y1="239.1" x2="592.6" y2="234.9" stroke="#222" stroke-width="0.8"/>
<text x="592.6" y="253.8" font-size="11.5" text-anchor="middle">1000</text>
<line x1="611.6" y1="239.1" x2="611.6" y2="236.79999999999998" stroke="#222" stroke-width="0.7"/>
<line x1="630.7" y1="239.1" x2="630.7" y2="234.9" stroke="#222" stroke-width="0.8"/>
<text x="630.7" y="253.8" font-size="11.5" text-anchor="middle">1200</text>
<text transform="translate(355.5,131.75) rotate(-90)" font-size="14.5" text-anchor="middle">Number of image elements (10<tspan font-size="8.5" dy="-5">4</tspan><tspan dy="5">)</tspan></text>
<text transform="translate(684.5,124.5) rotate(-90)" font-size="14.5" text-anchor="middle">%</text>
<text x="516.5" y="275.3" font-size="12.1" text-anchor="middle">NPP (g C/m<tspan font-size="7.8" dy="-4.3">2</tspan><tspan dy="4.3">/a)</tspan></text>
<text x="352.6" y="303.2" font-size="9.4">Low value area: 0-400</text>
<text x="352.6" y="314.4" font-size="9.4">The median area: 400-800</text>
<text x="352.6" y="325.6" font-size="9.4">High value area: 800 and above</text>
<text x="352.6" y="336.8" font-size="9.4">Unit: g C/m²/a</text>
</svg></body></html>
